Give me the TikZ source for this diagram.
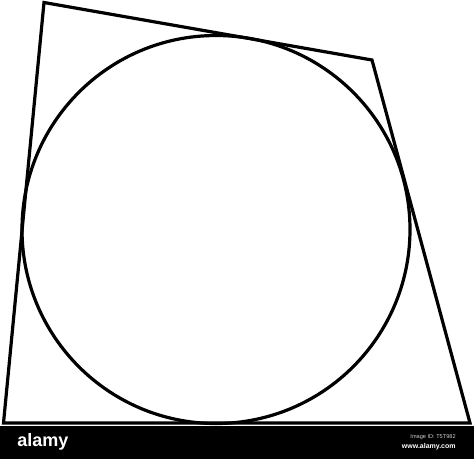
\documentclass[tikz,border=0pt]{standalone}
\usepackage{fontspec}
\newfontfamily\barfont{Liberation Sans}
\tikzset{every picture/.style={line width=0.75pt}}
\tikzset{outline/.style={line width=3.2pt, line join=miter}}
\begin{document}
\begin{tikzpicture}[x=1pt,y=1pt,yscale=-1,xscale=1]
	\useasboundingbox (0,0) rectangle (474,459);

	%Shape: Quadrilateral corners
	\coordinate (tl) at (44,2.5);
	\coordinate (tr) at (372,60);
	\coordinate (br) at (470,423);
	\coordinate (bl) at (3.5,423);
	%Shape: Quadrilateral
	\draw [outline] (tl) -- (tr) -- (br) -- (bl) -- cycle ;
	%Shape: Circle
	\draw [outline] (216,229.5) circle [radius=194] ;

	%Shape: Rectangle (bar)
	\fill [black] (0,426) rectangle (474,459) ;
	% Text Node
	\node (brand) [anchor=west, inner sep=0pt, text=white, font=\barfont\bfseries\fontsize{18}{18}\selectfont] at (17,442) {alamy};
	% Text Node
	\node (imgid) [anchor=east, inner sep=0pt, text=white!80!black, font=\barfont\fontsize{5.6}{5.6}\selectfont] at (456,437) {Image ID: T5T982};
	% Text Node
	\node (site) [anchor=east, inner sep=0pt, text=white, font=\barfont\bfseries\fontsize{7}{7}\selectfont] at (456,447) {www.alamy.com};

\end{tikzpicture}
\end{document}
